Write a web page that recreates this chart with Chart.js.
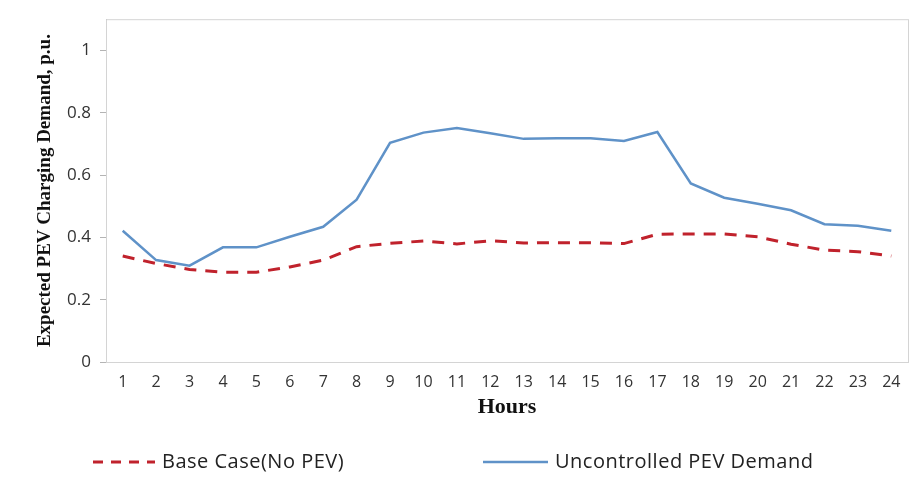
<!DOCTYPE html>
<html>
<head>
<meta charset="utf-8">
<script src="https://cdn.jsdelivr.net/npm/chart.js@4/dist/chart.umd.min.js"></script>
<style>
  html, body { margin: 0; padding: 0; background: #fff; }
  #wrap { width: 920px; height: 482px; }
</style>
</head>
<body>
<div id="wrap"><canvas id="demandChart" width="920" height="482"></canvas></div>
<script>
// horas do dia
const hours = ['1','2','3','4','5','6','7','8','9','10','11','12','13','14','15','16','17','18','19','20','21','22','23','24'];

// caso base (sem PEV)
const baseCase = [0.34, 0.316, 0.297, 0.288, 0.288, 0.305, 0.327, 0.37, 0.381, 0.388, 0.379, 0.389, 0.382, 0.383, 0.383, 0.38, 0.41, 0.411, 0.411, 0.402, 0.378, 0.359, 0.354, 0.34];

// demanda PEV sem controle
const uncontrolled = [0.421, 0.327, 0.309, 0.368, 0.368, 0.402, 0.434, 0.521, 0.703, 0.736, 0.751, 0.734, 0.716, 0.718, 0.718, 0.709, 0.738, 0.573, 0.527, 0.508, 0.487, 0.442, 0.437, 0.421];

const seriesNames = ['Base Case(No PEV)', 'Uncontrolled PEV Demand'];

const xTickFont = { family: "'Open Sans', sans-serif", size: 16 };
const yTickFont = { family: "'Open Sans', sans-serif", size: 17 };
const titleFont = { family: "'Liberation Serif', 'Times New Roman', serif", size: 19, weight: 'bold' };

// caixa cinza em volta da area do grafico
const plotBox = {
  id: 'plotBox',
  beforeDatasetsDraw(chart) {
    const { ctx, chartArea: a } = chart;
    ctx.save();
    ctx.strokeStyle = '#d4d4d4';
    ctx.lineWidth = 1;
    ctx.strokeRect(a.left + 0.5, a.top + 0.5, a.right - a.left, a.bottom - a.top);
    ctx.restore();
  }
};

// legenda na parte de baixo, itens bem separados
const bottomLegend = {
  id: 'bottomLegend',
  afterDraw(chart) {
    const ctx = chart.ctx;
    const spots = [{ x: 93, w: 62, dash: [10, 8] }, { x: 483, w: 65, dash: [] }];
    const y = 462;
    ctx.save();
    chart.data.datasets.forEach((ds, i) => {
      const s = spots[i];
      ctx.beginPath();
      ctx.strokeStyle = ds.borderColor;
      ctx.lineWidth = ds.borderWidth;
      ctx.setLineDash(s.dash);
      ctx.moveTo(s.x, y);
      ctx.lineTo(s.x + s.w, y);
      ctx.stroke();
      ctx.setLineDash([]);
      ctx.fillStyle = '#222';
      ctx.font = "20px 'Open Sans', sans-serif";
      ctx.letterSpacing = '0.5px';
      ctx.textBaseline = 'middle';
      ctx.textAlign = 'left';
      ctx.fillText(ds.label, s.x + s.w + 7, y);
    });
    ctx.restore();
  }
};

const ctx = document.getElementById('demandChart').getContext('2d');
new Chart(ctx, {
  type: 'line',
  data: {
    labels: hours,
    datasets: [
      {
        label: seriesNames[0],
        data: baseCase,
        borderColor: '#c0222c',
        borderWidth: 3,
        borderDash: [12, 9],
        pointRadius: 0,
        tension: 0,
        fill: false
      },
      {
        label: seriesNames[1],
        data: uncontrolled,
        borderColor: '#5f92c8',
        borderWidth: 2.5,
        pointRadius: 0,
        tension: 0,
        fill: false
      }
    ]
  },
  options: {
    responsive: false,
    animation: false,
    layout: { padding: { left: 0, top: 18, right: 12, bottom: 0 } },
    plugins: {
      legend: { display: false },
      tooltip: { enabled: false }
    },
    scales: {
      x: {
        offset: true,
        grid: { display: false, drawTicks: false },
        border: { display: true, color: '#b4b4b4', width: 1 },
        ticks: { font: xTickFont, color: '#333', padding: 11, maxRotation: 0, autoSkip: false },
        title: { display: true, text: 'Hours', font: { ...titleFont, size: 22 }, color: '#111', padding: { top: 0, bottom: 61 } },
        afterFit: s => { s.height = 120; }
      },
      y: {
        min: 0,
        max: 1.1,
        grid: { drawOnChartArea: false, drawTicks: true, tickLength: 6, color: '#b4b4b4' },
        border: { display: true, color: '#b4b4b4', width: 1 },
        ticks: {
          stepSize: 0.2,
          includeBounds: false,
          font: yTickFont,
          color: '#333',
          padding: 9,
          callback: v => String(Number(v.toFixed(1)))
        },
        title: { display: true, text: 'Expected PEV Charging Demand, p.u.', font: titleFont, color: '#111', padding: { top: 34, bottom: 0 } },
        afterFit: s => { s.width = 106; }
      }
    }
  },
  plugins: [plotBox, bottomLegend]
});
</script>
</body>
</html>
